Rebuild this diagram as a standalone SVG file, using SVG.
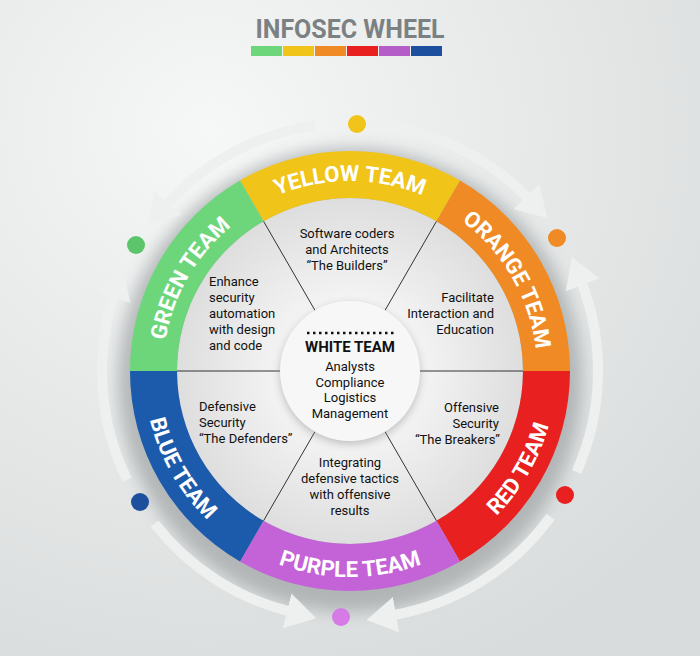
<svg xmlns="http://www.w3.org/2000/svg" xmlns:xlink="http://www.w3.org/1999/xlink" width="700" height="656" viewBox="0 0 700 656">
<defs>
<radialGradient id="bg" cx="0.3" cy="0.2" r="0.9"><stop offset="0" stop-color="#f6f7f7"/><stop offset="1" stop-color="#d9dcdc"/></radialGradient>
<radialGradient id="disk" cx="0.5" cy="0.5" r="0.5"><stop offset="0.4" stop-color="#f4f4f4"/><stop offset="1" stop-color="#dedede"/></radialGradient>
<filter id="sh" x="-20%" y="-20%" width="140%" height="140%"><feGaussianBlur stdDeviation="8"/></filter>
<filter id="sh2" x="-30%" y="-30%" width="160%" height="160%"><feGaussianBlur stdDeviation="4"/></filter>
<marker id="ah" markerUnits="userSpaceOnUse" markerWidth="30" markerHeight="36" refX="3" refY="18" orient="auto"><path d="M0,0 L30,18 L0,36 Z" fill="#eef0f0"/></marker>
<path id="pY" d="M185.5,276 A190,190 0 0 1 514.5,276"/>
<path id="pG" d="M163,371 A187,187 0 0 1 256.5,209"/>
<path id="pO" d="M443.5,209 A187,187 0 0 1 537,371"/>
<path id="pB" d="M144,371 A206,206 0 0 0 247,549.4"/>
<path id="pP" d="M247,549.4 A206,206 0 0 0 453,549.4"/>
<path id="pR" d="M453,549.4 A206,206 0 0 0 556,371"/>
<style>
.arc{fill:none;stroke:#eef0f0;stroke-width:10}
.lab{font-family:Roboto,"Liberation Sans",sans-serif;font-weight:700;font-size:22px;fill:#fff}
.t{font-family:Roboto,"Liberation Sans",sans-serif;font-size:13px;fill:#111}
.div{stroke:#333;stroke-width:1}
</style>
</defs>
<rect width="700" height="656" fill="url(#bg)"/>
<text x="350" y="38" text-anchor="middle" font-family="Roboto,'Liberation Sans',sans-serif" font-weight="700" font-size="25" fill="#7b8182">INFOSEC WHEEL</text>
<g id="colorbar">
<rect x="251" y="46" width="31" height="10" fill="#6dd67a"/><rect x="283" y="46" width="31" height="10" fill="#f0c419"/><rect x="315" y="46" width="31" height="10" fill="#f08a24"/><rect x="347" y="46" width="31" height="10" fill="#e8201f"/><rect x="379" y="46" width="31" height="10" fill="#b45cc8"/><rect x="411" y="46" width="31" height="10" fill="#1c4f9e"/>
</g>
<circle cx="350" cy="380" r="232" fill="#9ea3a4" opacity="0.7" filter="url(#sh)"/>
<g id="connectors">
<path class="arc" d="M315.5,125.4 A248,248 0 0 0 165.7,205.1" marker-end="url(#ah)"/>
<path class="arc" d="M375.9,124.4 A248,248 0 0 1 528.4,198.7" marker-end="url(#ah)"/>
<path class="arc" d="M127.1,479.7 A248,248 0 0 1 114.1,294.4" marker-end="url(#ah)"/>
<path class="arc" d="M576.6,471.9 A248,248 0 0 0 581.5,282.1" marker-end="url(#ah)"/>
<path class="arc" d="M154.6,523.7 A248,248 0 0 0 290,611.6" marker-end="url(#ah)"/>
<path class="arc" d="M550.6,516.8 A248,248 0 0 1 393.1,615.2" marker-end="url(#ah)"/>
</g>
<g id="dots">
<circle cx="357" cy="124" r="9" fill="#f0c419"/><circle cx="136" cy="245" r="9" fill="#5cc46b"/><circle cx="557" cy="238" r="9" fill="#f08a24"/><circle cx="565" cy="495" r="9" fill="#e8201f"/><circle cx="140" cy="502" r="9" fill="#1c4f9e"/><circle cx="341" cy="617" r="9" fill="#d67be6"/>
</g>
<circle cx="350" cy="371" r="173" fill="url(#disk)"/>
<g id="dividers">
<line class="div" x1="420" y1="371" x2="523" y2="371"/><line class="div" x1="280" y1="371" x2="177" y2="371"/>
<line class="div" x1="385" y1="431.6" x2="436.5" y2="520.8"/><line class="div" x1="315" y1="431.6" x2="263.5" y2="520.8"/>
<line class="div" x1="385" y1="310.4" x2="436.5" y2="221.2"/><line class="div" x1="315" y1="310.4" x2="263.5" y2="221.2"/>
</g>
<g id="yellow"><path d="M240,180.5 A220,220 0 0 1 460,180.5 L436.5,221.2 A173,173 0 0 0 263.5,221.2 Z" fill="#f0c419"/>
<text class="lab"><textPath href="#pY" xlink:href="#pY" startOffset="50%" text-anchor="middle">YELLOW TEAM</textPath></text>
<text class="t" text-anchor="middle"><tspan x="347" y="238">Software coders</tspan><tspan x="347" y="254">and Architects</tspan><tspan x="347" y="270">“The Builders”</tspan></text></g>
<g id="orange"><path d="M460,180.5 A220,220 0 0 1 570,371 L523,371 A173,173 0 0 0 436.5,221.2 Z" fill="#f08a24"/>
<text class="lab"><textPath href="#pO" xlink:href="#pO" startOffset="50%" text-anchor="middle">ORANGE TEAM</textPath></text>
<text class="t" text-anchor="end"><tspan x="494" y="302">Facilitate</tspan><tspan x="494" y="318">Interaction and</tspan><tspan x="494" y="334">Education</tspan></text></g>
<g id="red"><path d="M570,371 A220,220 0 0 1 460,561.5 L436.5,520.8 A173,173 0 0 0 523,371 Z" fill="#e8201f"/>
<text class="lab"><textPath href="#pR" xlink:href="#pR" startOffset="50%" text-anchor="middle">RED TEAM</textPath></text>
<text class="t" text-anchor="end"><tspan x="499" y="412">Offensive</tspan><tspan x="499" y="428">Security</tspan><tspan x="500" y="444">“The Breakers”</tspan></text></g>
<g id="purple"><path d="M460,561.5 A220,220 0 0 1 240,561.5 L263.5,520.8 A173,173 0 0 0 436.5,520.8 Z" fill="#c463d8"/>
<text class="lab"><textPath href="#pP" xlink:href="#pP" startOffset="50%" text-anchor="middle">PURPLE TEAM</textPath></text>
<text class="t" text-anchor="middle"><tspan x="350" y="467">Integrating</tspan><tspan x="350" y="483">defensive tactics</tspan><tspan x="350" y="499">with offensive</tspan><tspan x="350" y="515">results</tspan></text></g>
<g id="blue"><path d="M240,561.5 A220,220 0 0 1 130,371 L177,371 A173,173 0 0 0 263.5,520.8 Z" fill="#1c5aac"/>
<text class="lab"><textPath href="#pB" xlink:href="#pB" startOffset="50%" text-anchor="middle">BLUE TEAM</textPath></text>
<text class="t"><tspan x="199" y="411">Defensive</tspan><tspan x="199" y="427">Security</tspan><tspan x="199" y="443">“The Defenders”</tspan></text></g>
<g id="green"><path d="M130,371 A220,220 0 0 1 240,180.5 L263.5,221.2 A173,173 0 0 0 177,371 Z" fill="#6dd67a"/>
<text class="lab"><textPath href="#pG" xlink:href="#pG" startOffset="50%" text-anchor="middle">GREEN TEAM</textPath></text>
<text class="t"><tspan x="209" y="286">Enhance</tspan><tspan x="209" y="302">security</tspan><tspan x="209" y="318">automation</tspan><tspan x="209" y="334">with design</tspan><tspan x="209" y="350">and code</tspan></text></g>
<g id="white">
<circle cx="350" cy="374" r="70" fill="#888" opacity="0.5" filter="url(#sh2)"/>
<circle cx="350" cy="371" r="70" fill="#f7f7f7"/>
<line x1="307" y1="333" x2="394" y2="333" stroke="#111" stroke-width="2.5" stroke-dasharray="2.5 3.5"/>
<text x="350" y="352" text-anchor="middle" font-family="Roboto,'Liberation Sans',sans-serif" font-weight="700" font-size="15" fill="#111">WHITE TEAM</text>
<text class="t" text-anchor="middle"><tspan x="350" y="371">Analysts</tspan><tspan x="350" y="387">Compliance</tspan><tspan x="350" y="402">Logistics</tspan><tspan x="350" y="418">Management</tspan></text>
</g>
</svg>
